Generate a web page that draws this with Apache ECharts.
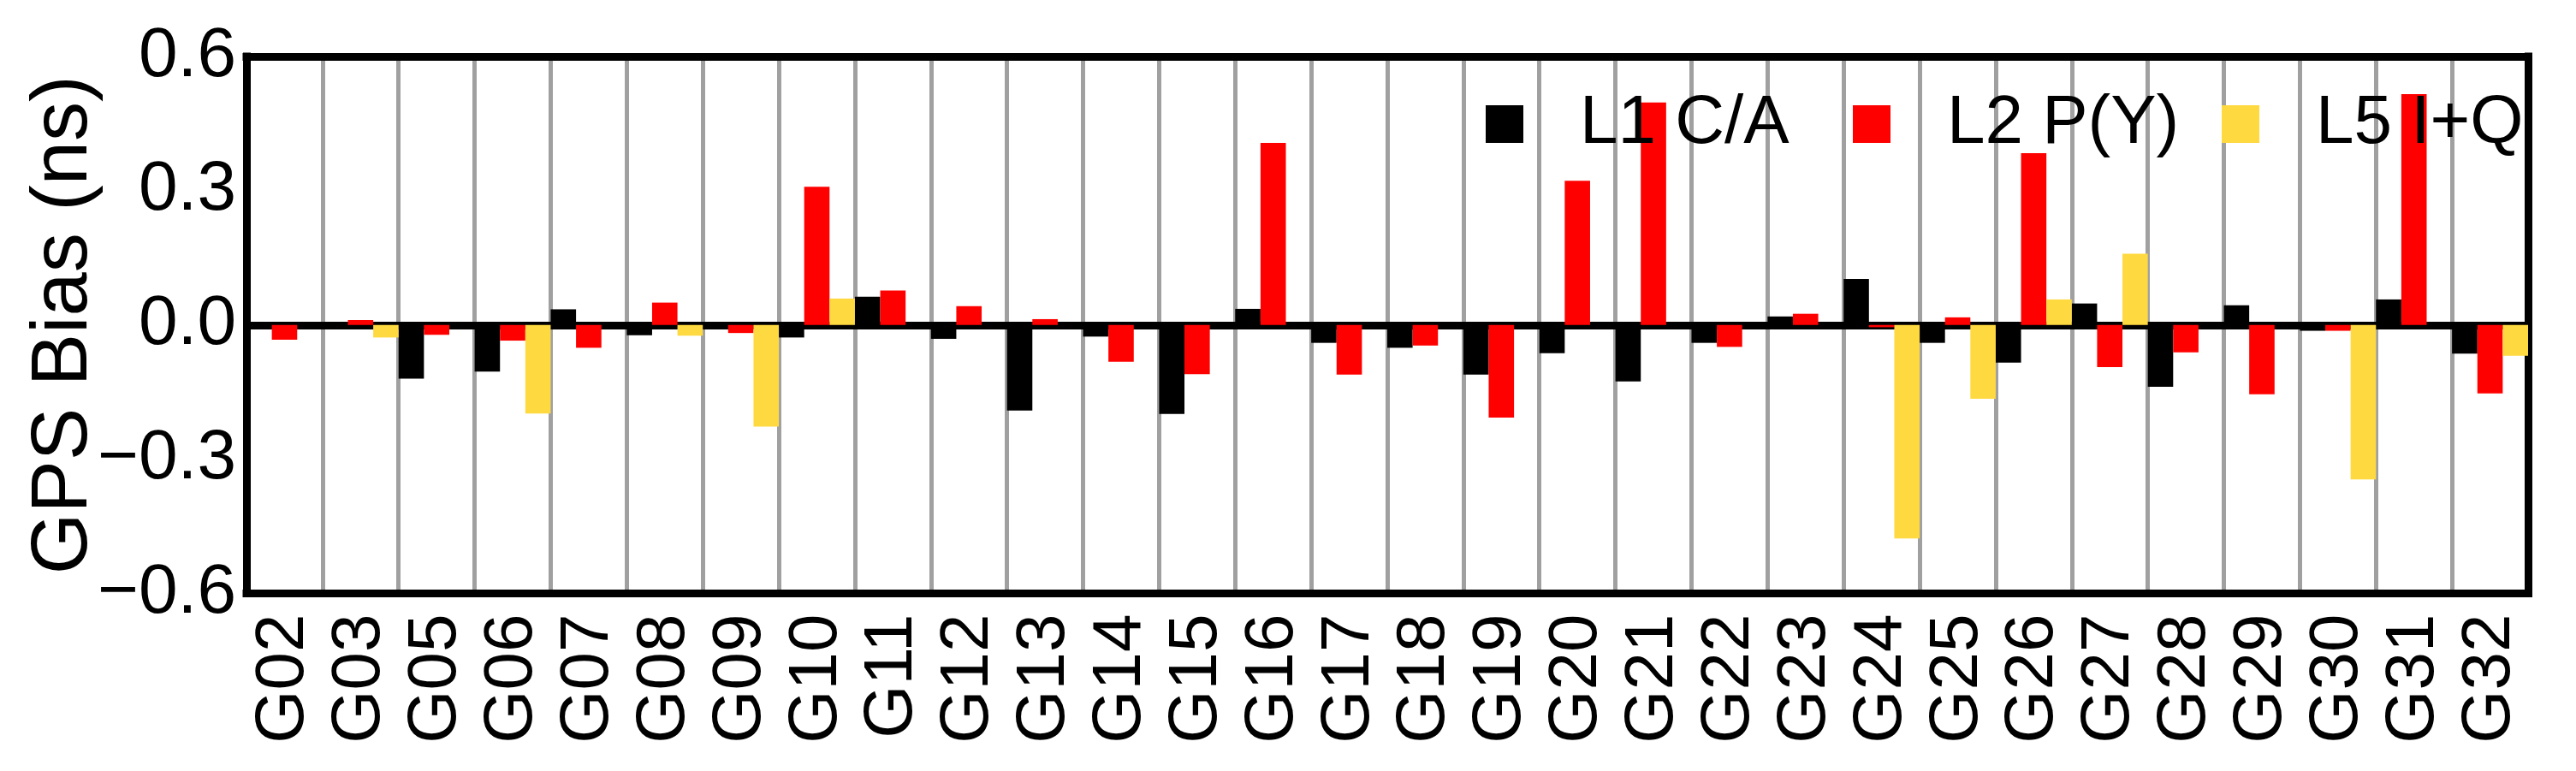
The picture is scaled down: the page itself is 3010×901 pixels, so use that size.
<!DOCTYPE html>
<html>
<head>
<meta charset="utf-8">
<script src="https://cdn.jsdelivr.net/npm/echarts@6/dist/echarts.min.js"></script>
<style>
  html, body { margin: 0; padding: 0; background: #ffffff; }
  #chart { width: 3010px; height: 901px; }
</style>
</head>
<body>
<div id="chart"></div>
<script>
// ---- data ----
const categories = ['G02','G03','G05','G06','G07','G08','G09','G10','G11','G12','G13','G14','G15','G16','G17','G18','G19','G20','G21','G22','G23','G24','G25','G26','G27','G28','G29','G30','G31','G32'];
const seriesNames = ['L1 C/A', 'L2 P(Y)', 'L5 I+Q'];
const l1ca = [0, 0, -0.120, -0.104, 0.035, -0.023, 0, -0.028, 0.063, -0.031, -0.191, -0.026, -0.199, 0.036, -0.040, -0.051, -0.111, -0.063, -0.126, -0.040, 0.019, 0.103, -0.040, -0.084, 0.048, -0.138, 0.044, -0.013, 0.057, -0.064];
const l2py = [-0.033, 0.011, -0.022, -0.035, -0.051, 0.050, -0.018, 0.309, 0.077, 0.042, 0.013, -0.082, -0.110, 0.407, -0.111, -0.046, -0.207, 0.322, 0.497, -0.049, 0.025, -0.005, 0.017, 0.384, -0.094, -0.061, -0.155, -0.013, 0.516, -0.153];
const l5iq = [0, -0.028, 0, -0.198, 0, -0.024, -0.227, 0.059, 0, 0, 0, 0, 0, 0, 0, 0, 0, 0, 0, 0, 0, -0.477, -0.165, 0.057, 0.159, 0, 0, -0.345, 0, -0.069];
const yTicks = [-0.6, -0.3, 0.0, 0.3, 0.6];
const yTitle = 'GPS Bias (ns)';

// ---- styles ----
const FONT = "'Liberation Sans', Arial, sans-serif";
const colors = ['#000000', '#ff0000', '#ffd940'];
const legendLeft = [1731, 2160, 2591];
const mkBorder = () => ({ show: true, onZero: false, lineStyle: { color: '#000', width: 9, cap: 'square' } });

const chart = echarts.init(document.getElementById('chart'), null, { renderer: 'canvas' });

const legends = seriesNames.map((n, i) => ({
  data: [n],
  left: legendLeft[i],
  top: 100,
  orient: 'horizontal',
  itemWidth: 44,
  itemHeight: 44,
  icon: 'rect',
  selectedMode: false,
  textStyle: { fontFamily: FONT, fontSize: 80, color: '#000', lineHeight: 80, padding: [0, 0, 0, 61] }
}));

const seriesData = [l1ca, l2py, l5iq];
const yMin = yTicks[0], yMax = yTicks[yTicks.length - 1];

const option = {
  animation: false,
  backgroundColor: '#ffffff',
  color: colors,
  textStyle: { fontFamily: FONT },
  legend: legends,
  grid: { left: 288, top: 66, right: 56, bottom: 207.5, show: false },
  xAxis: [{
    type: 'category', data: categories, position: 'bottom', z: 2,
    axisLine: mkBorder(),
    axisTick: { show: false },
    axisLabel: { rotate: 90, margin: 24, fontFamily: FONT, fontSize: 80, color: '#000', interval: 0 },
    splitLine: { show: false }
  }, {
    type: 'category', data: categories, position: 'top', z: 2,
    axisLine: mkBorder(),
    axisTick: { show: false }, axisLabel: { show: false }, splitLine: { show: false }
  }, {
    type: 'category', data: categories, position: 'bottom', z: 0,
    axisLine: { show: false }, axisTick: { show: false }, axisLabel: { show: false },
    splitLine: { show: true, interval: 0, lineStyle: { color: '#a0a0a0', width: 5 } }
  }],
  yAxis: [{
    type: 'value', min: yMin, max: yMax, interval: 0.3, position: 'left', z: 2,
    name: yTitle,
    nameLocation: 'middle',
    nameGap: 166,
    nameMoveOverlap: false,
    nameTextStyle: { fontFamily: FONT, fontSize: 92, color: '#000' },
    axisLine: mkBorder(),
    axisTick: { show: false },
    splitLine: { show: false },
    axisLabel: {
      margin: 12, fontFamily: FONT, fontSize: 82, color: '#000',
      formatter: v => (v < 0 ? '\u2212' : '') + Math.abs(v).toFixed(1)
    }
  }, {
    type: 'value', min: yMin, max: yMax, interval: 0.6, position: 'left', z: 1,
    axisLine: { show: false }, axisTick: { show: false }, axisLabel: { show: false },
    splitLine: { show: true, lineStyle: { color: '#000', width: 9 } }
  }, {
    type: 'value', min: yMin, max: yMax, interval: 0.6, position: 'right', z: 2,
    axisLine: mkBorder(), axisTick: { show: false }, axisLabel: { show: false }, splitLine: { show: false }
  }],
  series: seriesNames.map((n, i) => ({
    name: n,
    type: 'bar',
    data: seriesData[i],
    barGap: '0%',
    barCategoryGap: '0%',
    itemStyle: { color: colors[i] },
    z: 3
  }))
};
chart.setOption(option);
</script>
</body>
</html>
